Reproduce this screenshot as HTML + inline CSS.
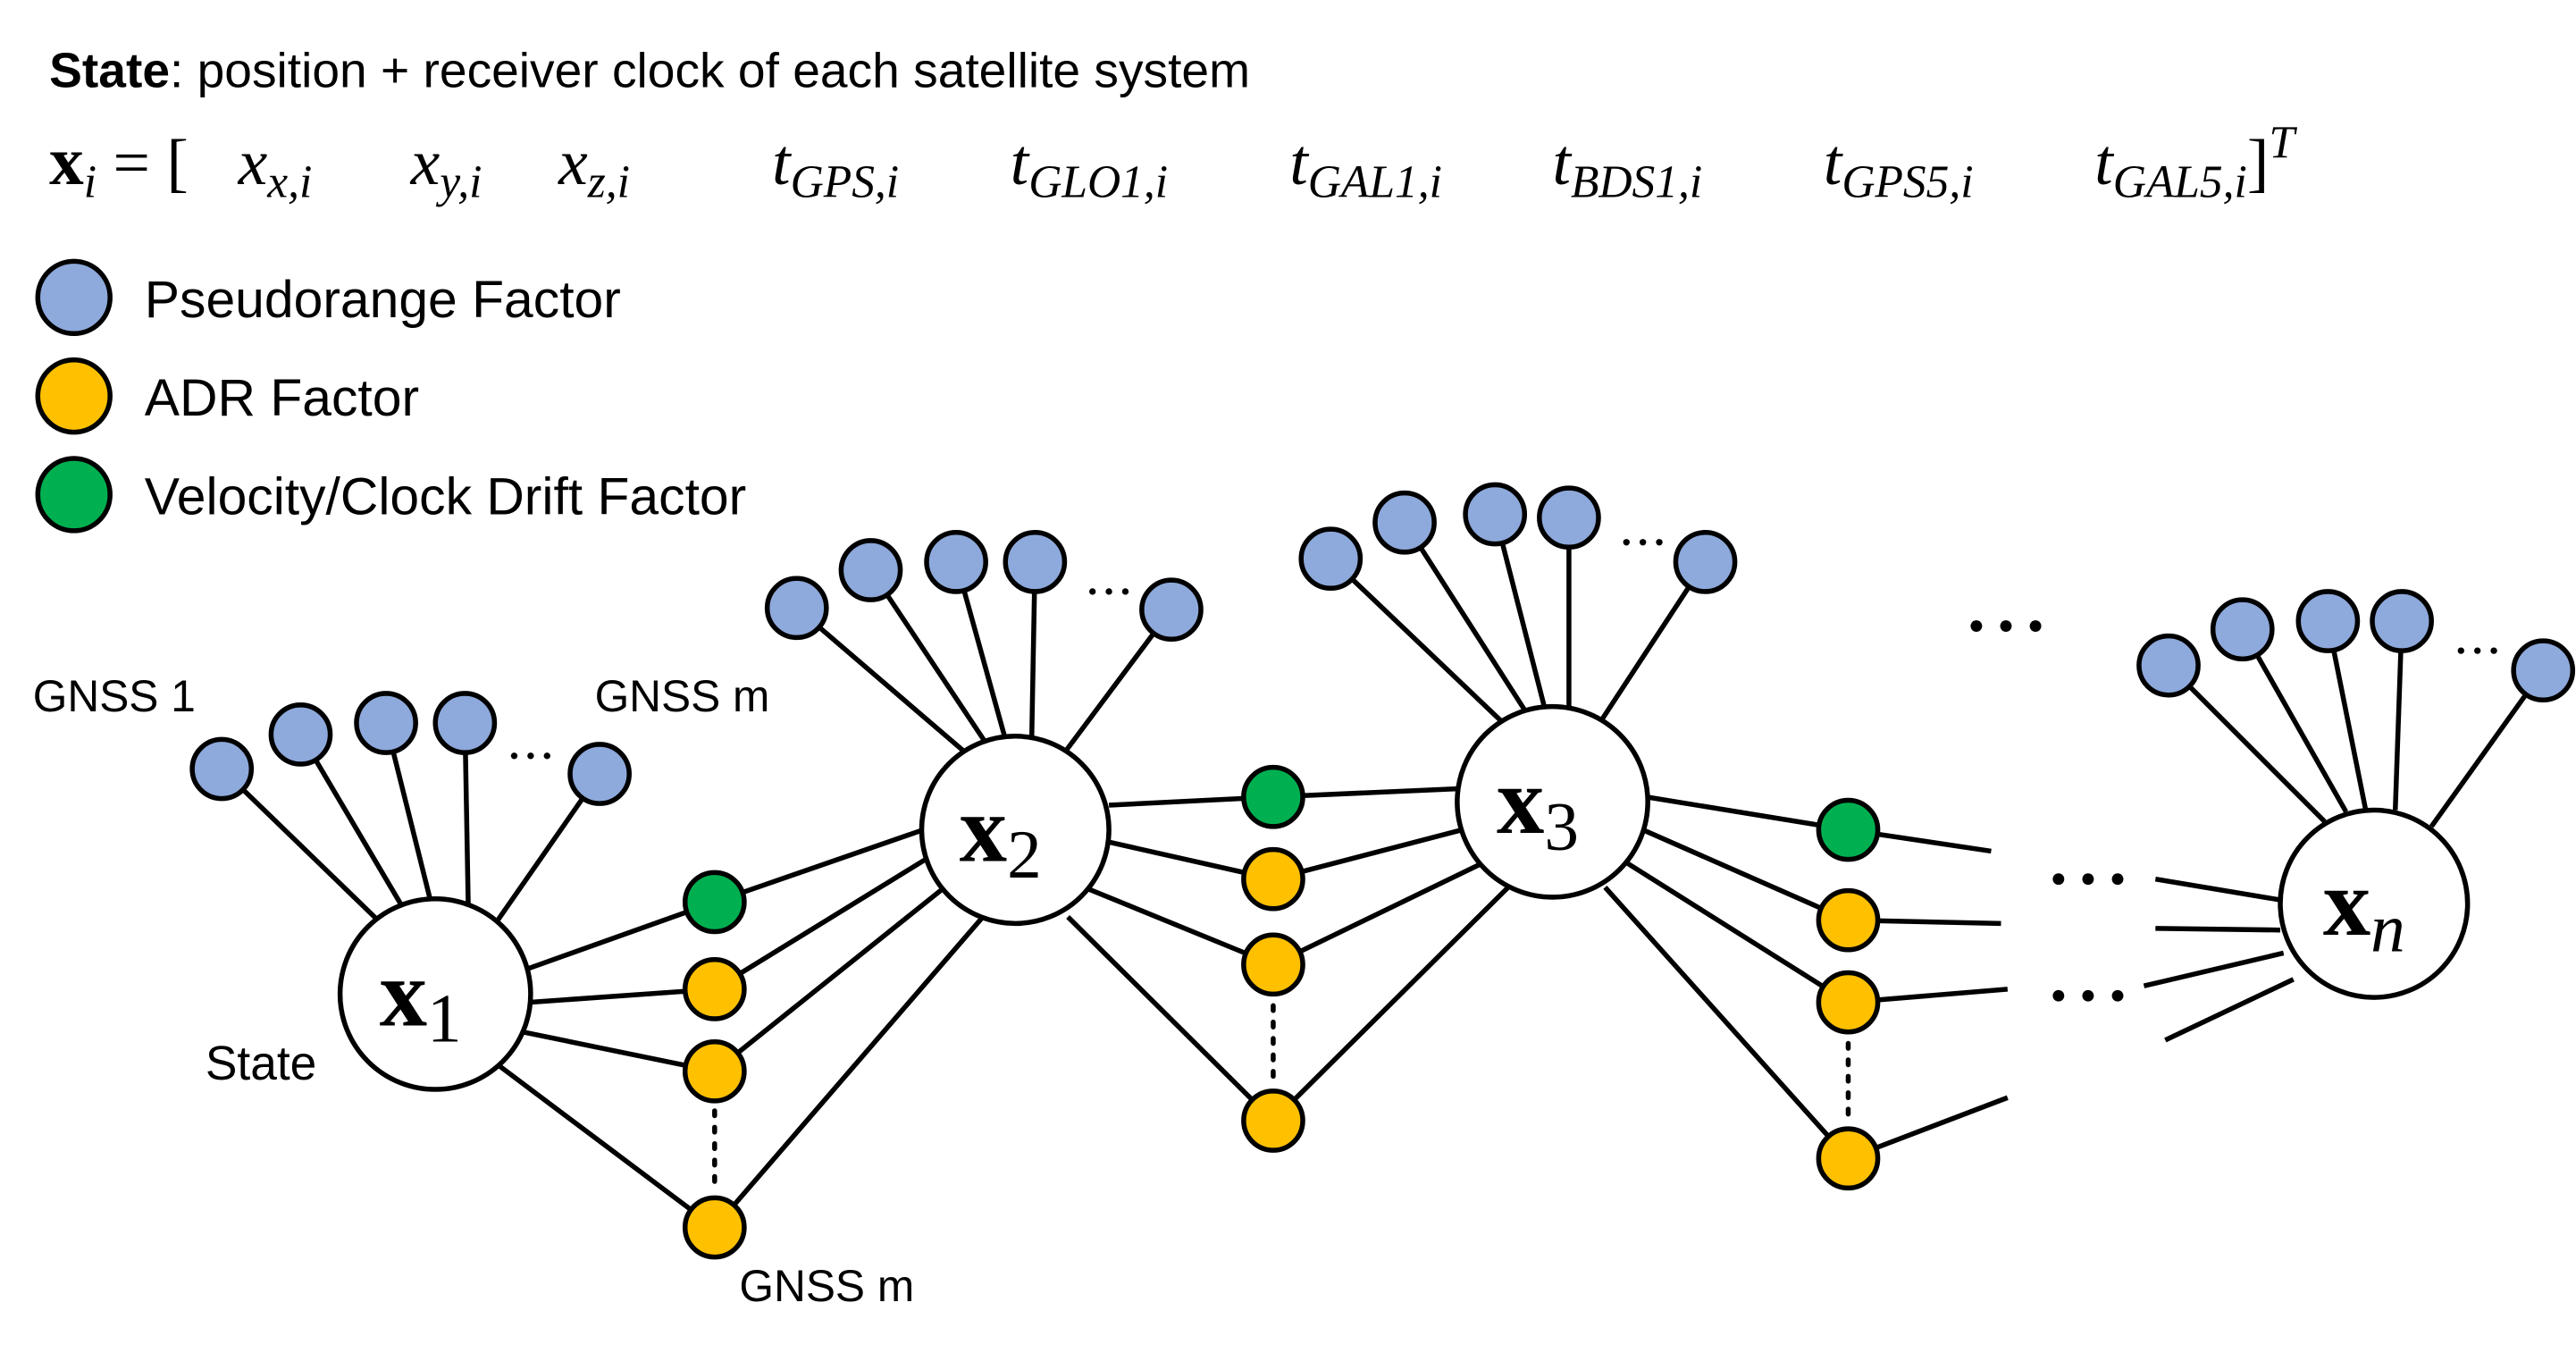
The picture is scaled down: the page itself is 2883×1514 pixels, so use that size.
<!DOCTYPE html>
<html><head><meta charset="utf-8"><style>
html,body{margin:0;padding:0;background:#fff;}
svg{display:block;}
.s{font-family:"Liberation Sans",sans-serif;}
.m{font-family:"Liberation Serif","DejaVu Serif",serif;}
</style></head><body>
<svg width="2883" height="1514" viewBox="0 0 1568 823.4" xmlns="http://www.w3.org/2000/svg">
<g class="s" font-size="30" fill="#000">
<text x="30" y="53"><tspan font-weight="bold">State</tspan>: position + receiver clock of each satellite system</text>
<text x="88" y="193" font-size="32">Pseudorange Factor</text>
<text x="88" y="253" font-size="32">ADR Factor</text>
<text x="88" y="313" font-size="32">Velocity/Clock Drift Factor</text>
<text x="20" y="433" font-size="27">GNSS 1</text>
<text x="362" y="433" font-size="27">GNSS m</text>
<text x="125" y="657" font-size="29">State</text>
<text x="450" y="792" font-size="27">GNSS m</text>
</g>
<g class="m" font-size="40" fill="#000">
<text x="30" y="112"><tspan font-weight="bold" font-size="42">x</tspan><tspan font-style="italic" font-size="28" dy="8">i</tspan><tspan dy="-8"> = [</tspan></text>
<text x="145" y="112" font-style="italic">x<tspan font-size="28" dy="8">x,i</tspan></text>
<text x="250" y="112" font-style="italic">x<tspan font-size="28" dy="8">y,i</tspan></text>
<text x="340" y="112" font-style="italic">x<tspan font-size="28" dy="8">z,i</tspan></text>
<text x="470" y="112" font-style="italic">t<tspan font-size="28" dy="8">GPS,i</tspan></text>
<text x="615" y="112" font-style="italic">t<tspan font-size="28" dy="8">GLO1,i</tspan></text>
<text x="785" y="112" font-style="italic">t<tspan font-size="28" dy="8">GAL1,i</tspan></text>
<text x="945" y="112" font-style="italic">t<tspan font-size="28" dy="8">BDS1,i</tspan></text>
<text x="1110" y="112" font-style="italic">t<tspan font-size="28" dy="8">GPS5,i</tspan></text>
<text x="1275" y="112" font-style="italic">t<tspan font-size="28" dy="8">GAL5,i</tspan><tspan font-style="normal" font-size="40" dy="-8">]</tspan><tspan font-size="28" dy="-16">T</tspan></text>
</g>
<g stroke="#000" stroke-width="3" fill="none">
<line x1="135" y1="468" x2="230" y2="560"/><line x1="183" y1="447" x2="245" y2="552"/><line x1="235" y1="440" x2="262" y2="548"/><line x1="283" y1="440" x2="285" y2="550"/><line x1="365" y1="471" x2="303" y2="560"/>
<line x1="485" y1="370" x2="590" y2="460"/><line x1="530" y1="347" x2="600" y2="452"/><line x1="582" y1="342" x2="612" y2="450"/><line x1="630" y1="342" x2="628" y2="450"/><line x1="713" y1="371" x2="648" y2="458"/>
<line x1="810" y1="340" x2="915" y2="440"/><line x1="855" y1="318" x2="928" y2="432"/><line x1="910" y1="313" x2="940" y2="430"/><line x1="955" y1="315" x2="955" y2="430"/><line x1="1038" y1="342" x2="975" y2="438"/>
<line x1="1320" y1="405" x2="1415" y2="500"/><line x1="1365" y1="383" x2="1428" y2="494"/><line x1="1417" y1="378" x2="1440" y2="493"/><line x1="1462" y1="378" x2="1458" y2="493"/><line x1="1548" y1="408" x2="1480" y2="503"/>
<line x1="320" y1="590" x2="435" y2="549"/><line x1="322" y1="610" x2="435" y2="602"/><line x1="318" y1="628" x2="435" y2="652"/><line x1="303" y1="648" x2="435" y2="747"/>
<line x1="435" y1="549" x2="562" y2="505"/><line x1="435" y1="602" x2="565" y2="522"/><line x1="435" y1="652" x2="575" y2="540"/><line x1="435" y1="747" x2="600" y2="556"/>
<line x1="675" y1="490" x2="775" y2="485"/><line x1="673" y1="512" x2="775" y2="535"/><line x1="660" y1="540" x2="775" y2="587"/><line x1="650" y1="558" x2="775" y2="682"/>
<line x1="775" y1="485" x2="887" y2="480"/><line x1="775" y1="535" x2="890" y2="505"/><line x1="775" y1="587" x2="903" y2="525"/><line x1="775" y1="682" x2="918" y2="540"/>
<line x1="1002" y1="485" x2="1125" y2="505"/><line x1="1000" y1="505" x2="1125" y2="560"/><line x1="990" y1="525" x2="1125" y2="610"/><line x1="977" y1="540" x2="1125" y2="705"/>
<line x1="1125" y1="505" x2="1212" y2="518"/><line x1="1125" y1="560" x2="1218" y2="562"/><line x1="1125" y1="610" x2="1222" y2="602"/><line x1="1125" y1="705" x2="1222" y2="668"/>
<line x1="1312" y1="535" x2="1390" y2="548"/><line x1="1312" y1="565" x2="1388" y2="566"/><line x1="1305" y1="600" x2="1390" y2="580"/><line x1="1318" y1="633" x2="1396" y2="596"/>
</g>
<g stroke="#000" stroke-width="3" stroke-dasharray="3,7" stroke-linecap="round">
<line x1="435" y1="676" x2="435" y2="722"/><line x1="775" y1="612" x2="775" y2="658"/><line x1="1125" y1="635" x2="1125" y2="680"/>
</g>
<g stroke="#000" stroke-width="3">
<g fill="#8ea9db">
<circle cx="45" cy="181" r="22"/>
<circle cx="135" cy="468" r="18"/><circle cx="183" cy="447" r="18"/><circle cx="235" cy="440" r="18"/><circle cx="283" cy="440" r="18"/><circle cx="365" cy="471" r="18"/>
<circle cx="485" cy="370" r="18"/><circle cx="530" cy="347" r="18"/><circle cx="582" cy="342" r="18"/><circle cx="630" cy="342" r="18"/><circle cx="713" cy="371" r="18"/>
<circle cx="810" cy="340" r="18"/><circle cx="855" cy="318" r="18"/><circle cx="910" cy="313" r="18"/><circle cx="955" cy="315" r="18"/><circle cx="1038" cy="342" r="18"/>
<circle cx="1320" cy="405" r="18"/><circle cx="1365" cy="383" r="18"/><circle cx="1417" cy="378" r="18"/><circle cx="1462" cy="378" r="18"/><circle cx="1548" cy="408" r="18"/>
</g>
<g fill="#ffc000">
<circle cx="45" cy="241" r="22"/>
<circle cx="435" cy="602" r="18"/><circle cx="435" cy="652" r="18"/><circle cx="435" cy="747" r="18"/>
<circle cx="775" cy="535" r="18"/><circle cx="775" cy="587" r="18"/><circle cx="775" cy="682" r="18"/>
<circle cx="1125" cy="560" r="18"/><circle cx="1125" cy="610" r="18"/><circle cx="1125" cy="705" r="18"/>
</g>
<g fill="#00b050">
<circle cx="45" cy="301" r="22"/>
<circle cx="435" cy="549" r="18"/><circle cx="775" cy="485" r="18"/><circle cx="1125" cy="505" r="18"/>
</g>
<g fill="#fff">
<circle cx="265" cy="605" r="58"/><circle cx="618" cy="505" r="57"/><circle cx="945" cy="488" r="58"/><circle cx="1445" cy="550" r="57"/>
</g>
</g>
<g class="m" fill="#000">
<text x="231" y="624" font-size="58" font-weight="bold">x<tspan font-weight="normal" font-size="42" dy="10">1</tspan></text>
<text x="584" y="524" font-size="58" font-weight="bold">x<tspan font-weight="normal" font-size="42" dy="10">2</tspan></text>
<text x="911" y="507" font-size="58" font-weight="bold">x<tspan font-weight="normal" font-size="42" dy="10">3</tspan></text>
<text x="1414" y="569" font-size="58" font-weight="bold">x<tspan font-weight="normal" font-style="italic" font-size="42" dy="10">n</tspan></text>
</g>
<g fill="#000">
<circle cx="313" cy="460" r="2"/><circle cx="323" cy="460" r="2"/><circle cx="333" cy="460" r="2"/>
<circle cx="665" cy="360" r="2"/><circle cx="675" cy="360" r="2"/><circle cx="685" cy="360" r="2"/>
<circle cx="990" cy="330" r="2"/><circle cx="1000" cy="330" r="2"/><circle cx="1010" cy="330" r="2"/>
<circle cx="1498" cy="396" r="2"/><circle cx="1508" cy="396" r="2"/><circle cx="1518" cy="396" r="2"/>
<circle cx="1203" cy="381" r="3.5"/><circle cx="1221" cy="381" r="3.5"/><circle cx="1239" cy="381" r="3.5"/>
<circle cx="1253" cy="535" r="3.5"/><circle cx="1271" cy="535" r="3.5"/><circle cx="1289" cy="535" r="3.5"/>
<circle cx="1253" cy="606" r="3.5"/><circle cx="1271" cy="606" r="3.5"/><circle cx="1289" cy="606" r="3.5"/>
</g>
</svg>
</body></html>
